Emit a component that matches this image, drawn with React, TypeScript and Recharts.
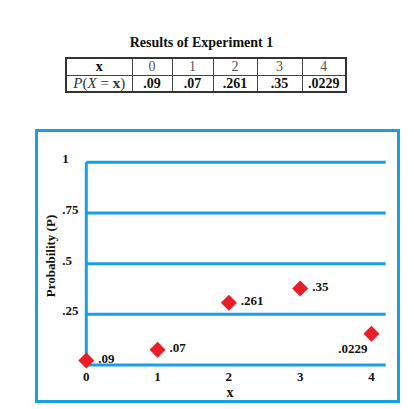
import React from 'react';
import { ScatterChart, Scatter, XAxis, YAxis, CartesianGrid, Label } from 'recharts';

const X_VALUES = [0, 1, 2, 3, 4];
// where the diamonds sit in the picture (not the same as the printed values)
const PLOTTED_P = [0.022, 0.075, 0.307, 0.377, 0.154];
const P_LABELS = ['.09', '.07', '.261', '.35', '.0229'];
const Y_TICKS = [0, 0.25, 0.5, 0.75, 1];
const Y_TICK_LABELS = ['', '.25', '.5', '.75', '1'];
const X_TICKS = [0, 1, 2, 3, 4];

const BLUE = '#17a0de';
const RED = '#ea1c25';
const SERIF = 'Liberation Serif, Times New Roman, Times, serif';

const data = X_VALUES.map((x, i) => ({ x, p: PLOTTED_P[i], label: P_LABELS[i] }));
const lastX = X_VALUES[X_VALUES.length - 1];

const Diamond = (props: any) => {
  const { cx, cy, payload } = props;
  const r = 8;
  const isLast = payload.x === lastX;
  return (
    <g>
      <polygon
        points={`${cx},${cy - r} ${cx + r},${cy} ${cx},${cy + r} ${cx - r},${cy}`}
        fill={RED}
      />
      <text
        x={isLast ? cx - 4 : cx + 12}
        y={isLast ? cy + 19 : cy + 2}
        textAnchor={isLast ? 'end' : 'start'}
        style={{ fontFamily: SERIF, fontWeight: 'bold', fontSize: 13 }}
        fill="#111"
      >
        {payload.label}
      </text>
    </g>
  );
};

const YTick = (props: any) => {
  const { x, y, index } = props;
  const text = Y_TICK_LABELS[index];
  if (!text) return null;
  return (
    <text x={x - 16} y={y + 1} style={{ fontFamily: SERIF, fontWeight: 'bold', fontSize: 13 }} fill="#111">
      {text}
    </text>
  );
};

const YLabel = (props: any) => {
  const { viewBox } = props;
  const cx = viewBox.x + 14.5;
  const cy = 256;
  return (
    <text
      x={cx}
      y={cy}
      transform={`rotate(-90 ${cx} ${cy})`}
      textAnchor="middle"
      dominantBaseline="central"
      style={{ fontFamily: SERIF, fontWeight: 'bold', fontSize: 13 }}
      fill="#111"
    >
      Probability (P)
    </text>
  );
};

const cell: React.CSSProperties = {
  border: '1px solid #444',
  padding: 0,
  textAlign: 'center',
  fontFamily: SERIF,
  fontSize: 14,
  lineHeight: '15px',
};

const colWidths = [66, 40, 41, 44, 45, 44];

export default function App() {
  return (
    <div style={{ position: 'absolute', left: 0, top: 0, width: 414, height: 409, background: '#fff' }}>
      <div
        style={{
          position: 'absolute',
          left: 0,
          top: 35,
          width: 403,
          textAlign: 'center',
          fontFamily: SERIF,
          fontWeight: 'bold',
          fontSize: 14,
          lineHeight: '16px',
          color: '#111',
        }}
      >
        Results of Experiment 1
      </div>
      <table
        style={{
          position: 'absolute',
          left: 65,
          top: 57,
          width: 280,
          borderCollapse: 'collapse',
          border: '2px solid #333',
          tableLayout: 'fixed',
        }}
      >
        <colgroup>
          {colWidths.map((w, i) => (
            <col key={i} style={{ width: w }} />
          ))}
        </colgroup>
        <tbody>
          <tr style={{ height: 17 }}>
            <td style={{ ...cell, fontWeight: 'bold' }}>x</td>
            {X_VALUES.map((x) => (
              <td key={x} style={{ ...cell, color: '#555' }}>
                {x}
              </td>
            ))}
          </tr>
          <tr style={{ height: 16 }}>
            <td style={{ ...cell, fontSize: 15, color: '#333' }}>
              <i>P</i>(<i>X</i> = <b>x</b>)
            </td>
            {P_LABELS.map((v, i) => (
              <td key={i} style={{ ...cell, fontWeight: 'bold', color: '#111' }}>
                {v}
              </td>
            ))}
          </tr>
        </tbody>
      </table>
      <div
        style={{
          position: 'absolute',
          left: 35,
          top: 129,
          width: 365,
          height: 274,
          border: `3px solid ${BLUE}`,
          boxSizing: 'border-box',
        }}
      />
      <div style={{ position: 'absolute', left: 0, top: 0 }}>
        <ScatterChart
          width={414}
          height={409}
          margin={{ top: 162.3, right: 28.3, left: 36.3, bottom: 4 }}
        >
          <CartesianGrid horizontal vertical={false} stroke={BLUE} strokeWidth={3} />
          <XAxis
            type="number"
            dataKey="x"
            domain={[0, 4.2]}
            ticks={X_TICKS}
            axisLine={false}
            tickLine={false}
            height={40}
            tickMargin={1}
            tick={{ fill: '#111', fontFamily: SERIF, fontWeight: 'bold', fontSize: 13 }}
          >
            <Label
              value="x"
              position="insideBottom"
              offset={8}
              dx={-6}
              style={{ fill: '#111', fontFamily: SERIF, fontWeight: 'bold', fontSize: 14 }}
            />
          </XAxis>
          <YAxis
            type="number"
            dataKey="p"
            domain={[0, 1]}
            ticks={Y_TICKS}
            width={50}
            axisLine={{ stroke: BLUE, strokeWidth: 3 }}
            tickLine={false}
            tick={<YTick />}
          >
            <Label content={<YLabel />} />
          </YAxis>
          <Scatter data={data} shape={<Diamond />} isAnimationActive={false} />
        </ScatterChart>
      </div>
    </div>
  );
}
